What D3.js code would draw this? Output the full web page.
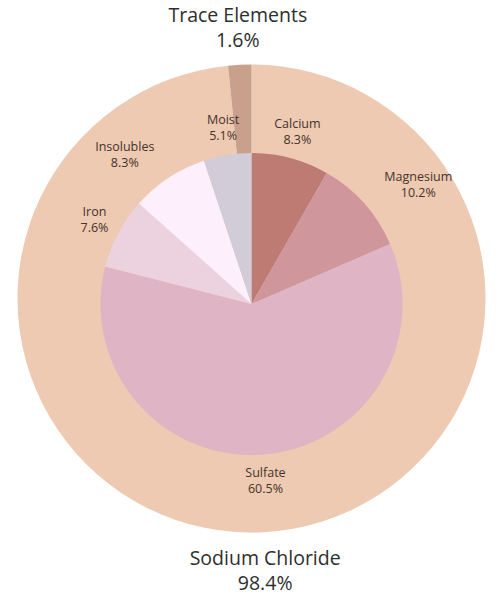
<!DOCTYPE html>
<html>
<head>
<meta charset="utf-8">
<script src="https://cdn.jsdelivr.net/npm/d3@7"></script>
<style>
  body { margin: 0; background: #fff; }
  text { font-family: "Open Sans", sans-serif; }
</style>
</head>
<body>
<div id="chart"></div>
<script>
// outer ring
const outerNames = ["Sodium Chloride", "Trace Elements"];
const outerValues = [98.4, 1.6];
const outerColors = ["#edcab1", "#c9a08c"];

// inner pie
const innerNames = ["Calcium", "Magnesium", "Sulfate", "Iron", "Insolubles", "Moist"];
const innerValues = [8.3, 10.2, 60.5, 7.6, 8.3, 5.1];
const innerColors = ["#bd7b74", "#cf969c", "#dfb4c4", "#ecd2df", "#fdf0fc", "#d1ccd8"];

const width = 500, height = 600;

const svg = d3.select("#chart")
  .append("svg")
    .attr("width", width)
    .attr("height", height);

const pie = d3.pie().sort(null).value(d => d.value);

// outer pie (full, inner one sits on top)
const outerData = pie(outerNames.map((n, i) => ({ name: n, value: outerValues[i], color: outerColors[i] })));
const outerR = 234;
const gOuter = svg.append("g").attr("transform", "translate(251.5,298.5)");
const outerArc = d3.arc().innerRadius(0).outerRadius(outerR);

gOuter.selectAll("path")
  .data(outerData)
  .enter().append("path")
    .attr("d", outerArc)
    .attr("fill", d => d.data.color);

// outer labels sit outside the ring
const outerLabelArc = d3.arc().innerRadius(272).outerRadius(272);
const oLab = gOuter.selectAll("text.outer")
  .data(outerData)
  .enter().append("text")
    .attr("class", "outer")
    .attr("text-anchor", "middle")
    .attr("fill", "#2e2e2e")
    .attr("font-size", 19.5)
    .attr("transform", d => "translate(" + outerLabelArc.centroid(d) + ")");
oLab.append("tspan").attr("x", 0).attr("y", -5).text(d => d.data.name);
oLab.append("tspan").attr("x", 0).attr("y", 20).text(d => d.data.value.toFixed(1) + "%");

// inner pie
const innerData = pie(innerNames.map((n, i) => ({ name: n, value: innerValues[i], color: innerColors[i] })));
const innerR = 151;
const gInner = svg.append("g").attr("transform", "translate(251.5,304)");
const innerArc = d3.arc().innerRadius(0).outerRadius(innerR);

gInner.selectAll("path")
  .data(innerData)
  .enter().append("path")
    .attr("d", innerArc)
    .attr("fill", d => d.data.color);

// labels just outside the inner pie, a couple nudged sideways to avoid crowding
const labelArc = d3.arc().innerRadius(178).outerRadius(178);
const nudge = { "Magnesium": 34, "Insolubles": -29 };
const iLab = gInner.selectAll("text.inner")
  .data(innerData)
  .enter().append("text")
    .attr("class", "inner")
    .attr("text-anchor", "middle")
    .attr("fill", "#45332c")
    .attr("font-size", 12.5)
    .attr("transform", d => {
      const c = labelArc.centroid(d);
      return "translate(" + (c[0] + (nudge[d.data.name] || 0)) + "," + c[1] + ")";
    });
iLab.append("tspan").attr("x", 0).attr("y", -4).text(d => d.data.name);
iLab.append("tspan").attr("x", 0).attr("y", 12).text(d => d.data.value.toFixed(1) + "%");
</script>
</body>
</html>
